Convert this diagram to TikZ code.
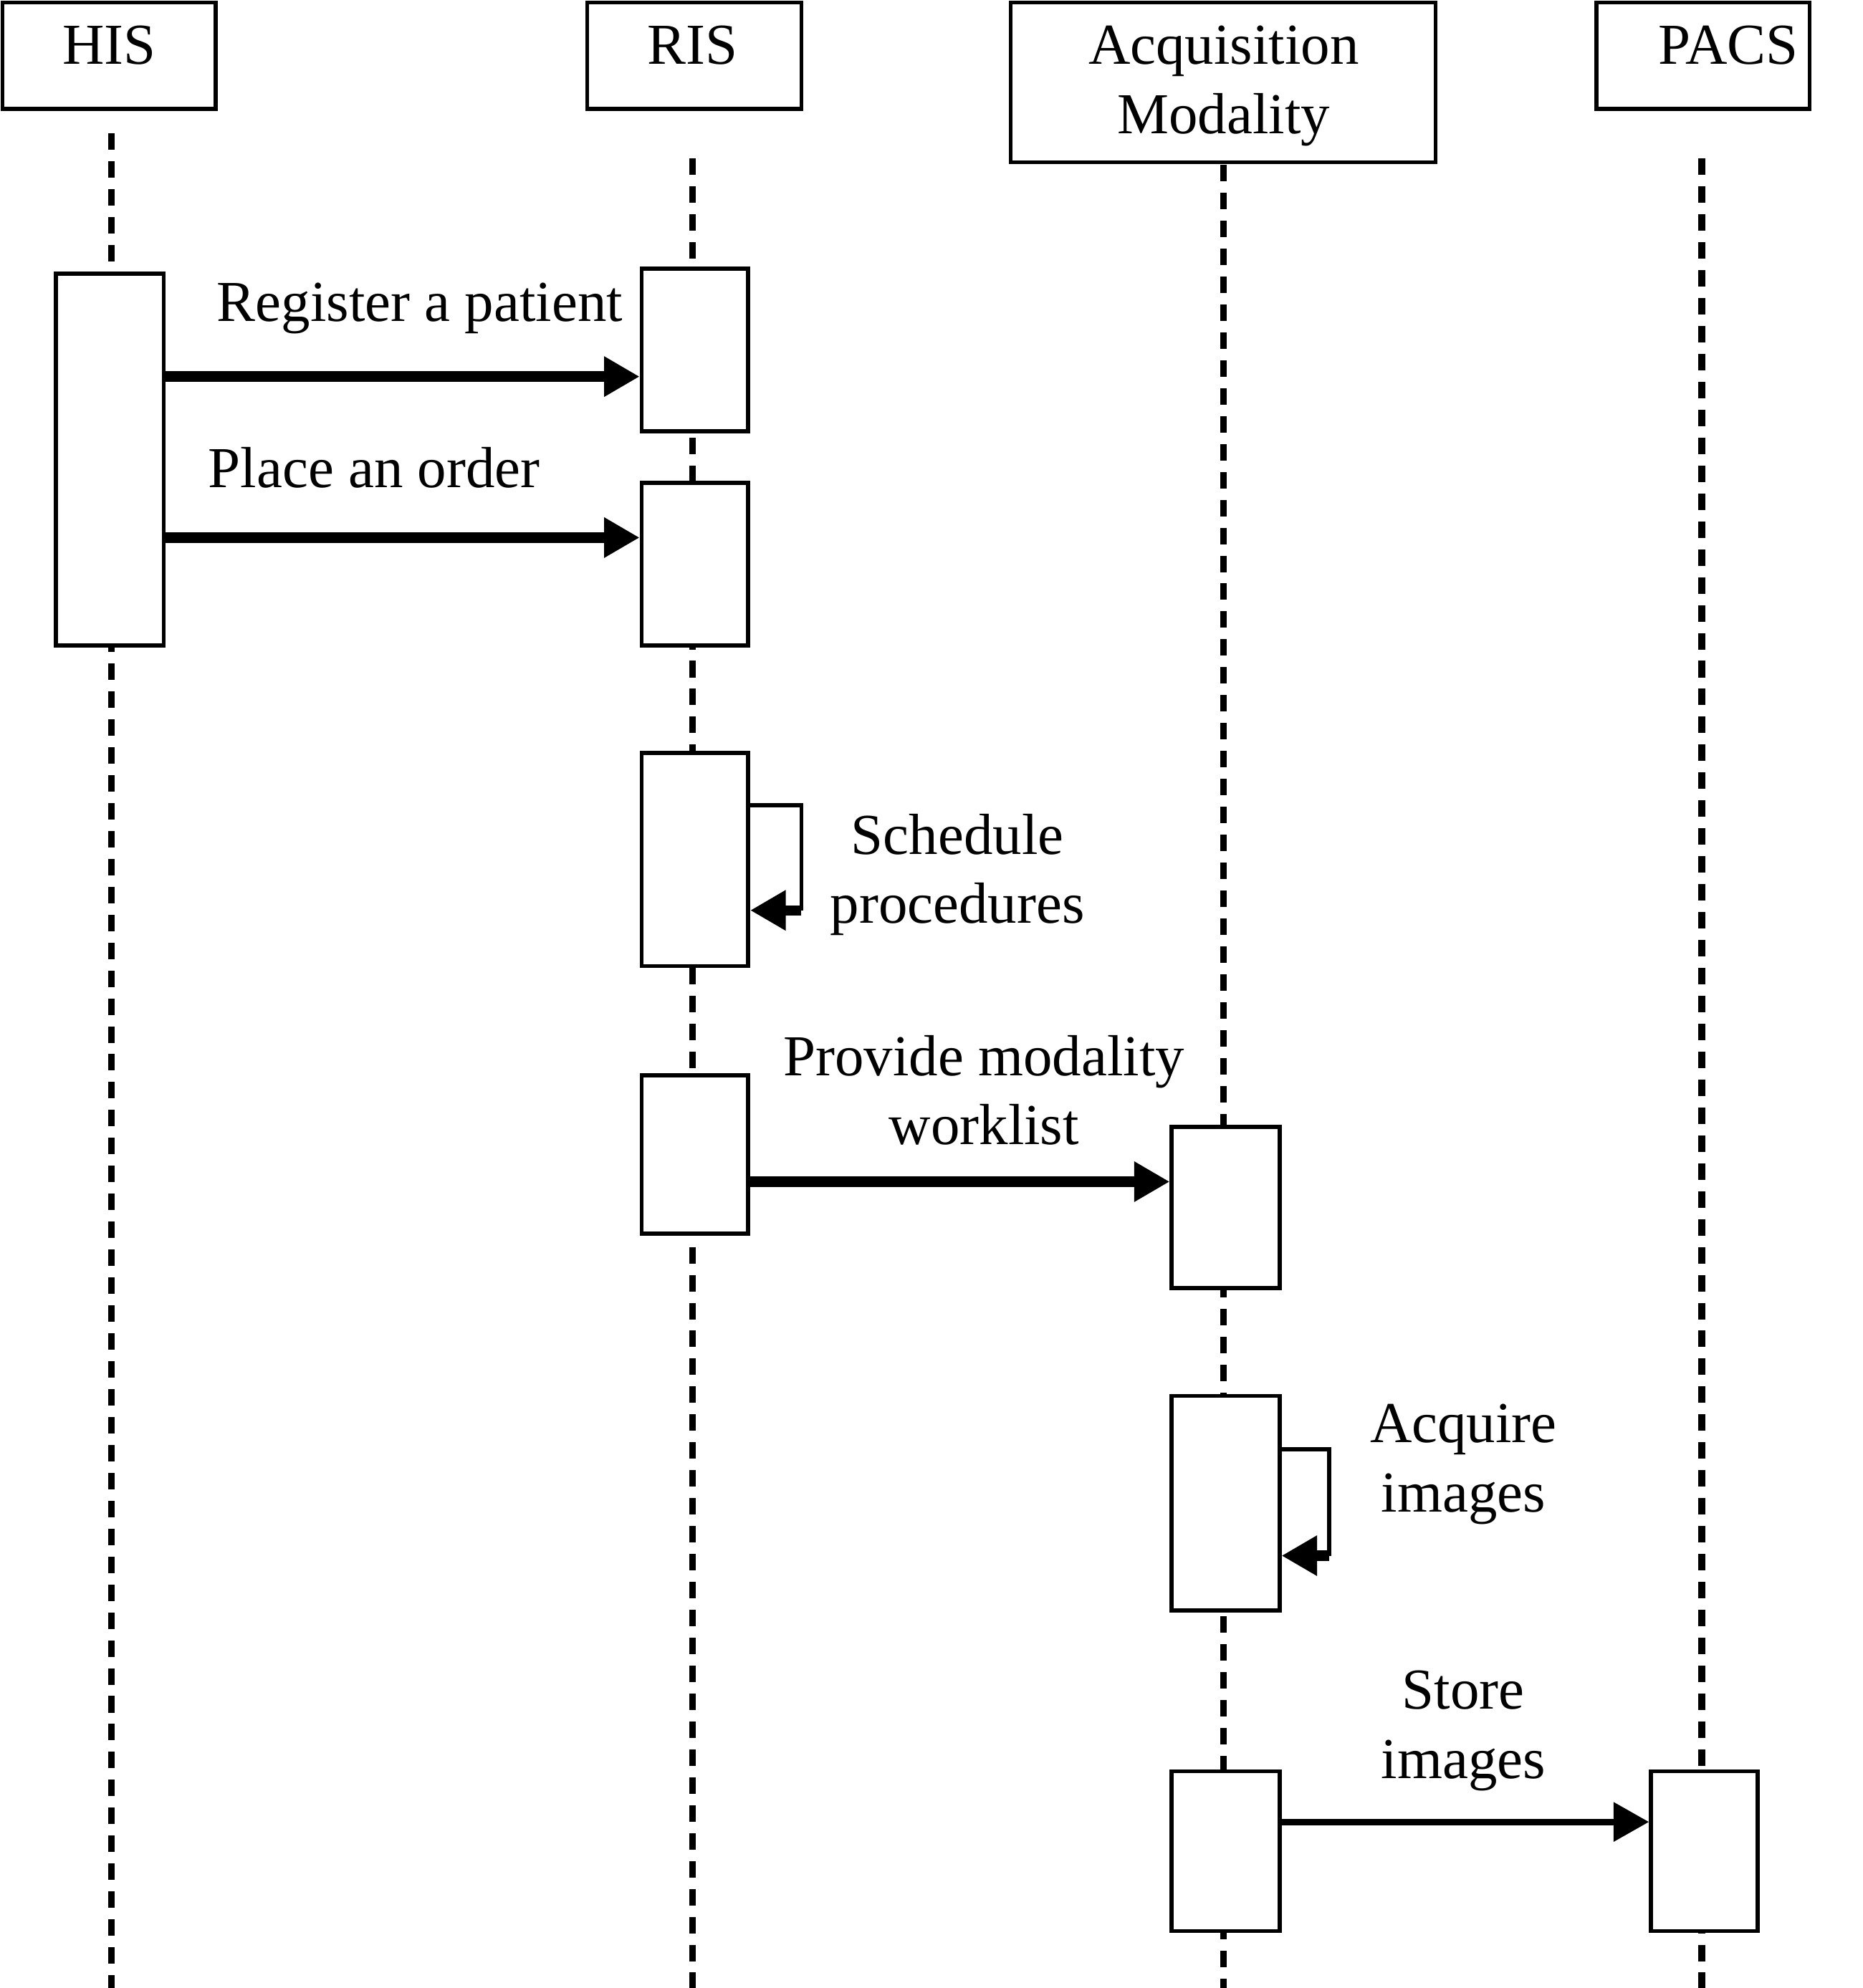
\documentclass[tikz,border=0pt]{standalone}
\usepackage{fontspec}
\setmainfont{Liberation Serif}
\usetikzlibrary{arrows.meta}
\begin{document}
\begin{tikzpicture}[x=0.01cm,y=-0.01cm,
  hdr/.style={draw,line width=0.9pt,fill=white,align=center,font=\fontsize{13}{14}\selectfont},
  act/.style={draw,line width=0.9pt,fill=white},
  life/.style={line width=1.5pt,dash pattern=on 0.13cm off 0.09cm},
  msg/.style={line width=2.3pt,-{Triangle[length=0.28cm,width=0.3cm]}},
  lbl/.style={align=center,font=\fontsize{13}{15.5}\selectfont}]
\useasboundingbox (0,0) rectangle (1469,1568);
% lifelines
\coordinate (hisT) at (88,105);  \coordinate (hisB) at (88,1568);
\coordinate (risT) at (546,125); \coordinate (risB) at (546,1568);
\coordinate (acqT) at (965,130); \coordinate (acqB) at (965,1568);
\coordinate (pacT) at (1342,125);\coordinate (pacB) at (1342,1568);
\draw[life] (hisT) -- (hisB);
\draw[life] (risT) -- (risB);
\draw[life] (acqT) -- (acqB);
\draw[life] (pacT) -- (pacB);
% headers
\draw[act] (2,2) rectangle (170,86);
\node[lbl,anchor=north] (his) at (86,8) {HIS};
\draw[act] (463,2) rectangle (632,86);
\node[lbl,anchor=north] (ris) at (546,8) {RIS};
\draw[act] (797,2) rectangle (1132,128);
\node[lbl,anchor=north] (acq) at (965,8) {Acquisition\\Modality};
\draw[act] (1259,2) rectangle (1427,86);
\node[lbl,anchor=north] (pacs) at (1363,8) {PACS};
% activations
\node[act,minimum width=0.85cm,minimum height=2.93cm] (h1) at (86.5,362.5) {};
\node[act,minimum width=0.84cm,minimum height=1.28cm] (r1) at (548,276) {};
\node[act,minimum width=0.84cm,minimum height=1.28cm] (r2) at (548,445) {};
\node[act,minimum width=0.84cm,minimum height=1.68cm] (r3) at (548,678) {};
\node[act,minimum width=0.84cm,minimum height=1.25cm] (r4) at (548,910.5) {};
\node[act,minimum width=0.85cm,minimum height=1.27cm] (a1) at (966.5,952.5) {};
\node[act,minimum width=0.85cm,minimum height=1.69cm] (a2) at (966.5,1185.5) {};
\node[act,minimum width=0.85cm,minimum height=1.26cm] (a3) at (966.5,1460) {};
\node[act,minimum width=0.84cm,minimum height=1.26cm] (p1) at (1344,1460) {};
% messages
\draw[msg] (h1.east |- 0,297) -- (r1.west |- 0,297);
\draw[msg] (h1.east |- 0,424) -- (r2.west |- 0,424);
\draw[line width=0.9pt] (r3.east |- 0,635) -- (632,635) -- (632,718);
\draw[msg] (632,718) -- (r3.east |- 0,718);
\draw[msg] (r4.east |- 0,932) -- (a1.west |- 0,932);
\draw[line width=0.9pt] (a2.east |- 0,1143) -- (1048,1143) -- (1048,1227);
\draw[msg] (1048,1227) -- (a2.east |- 0,1227);
\draw[msg,line width=1.5pt] (a3.east |- 0,1437) -- (p1.west |- 0,1437);
% labels
\node[lbl] (l1) at (331,243) {Register a patient};
\node[lbl] (l2) at (295,369) {Place an order};
\node[lbl] (l3) at (755,690) {Schedule\\procedures};
\node[lbl] (l4) at (776,860) {Provide modality\\worklist};
\node[lbl] (l5) at (1154,1155) {Acquire\\images};
\node[lbl] (l6) at (1154,1365) {Store\\images};
\end{tikzpicture}
\end{document}
